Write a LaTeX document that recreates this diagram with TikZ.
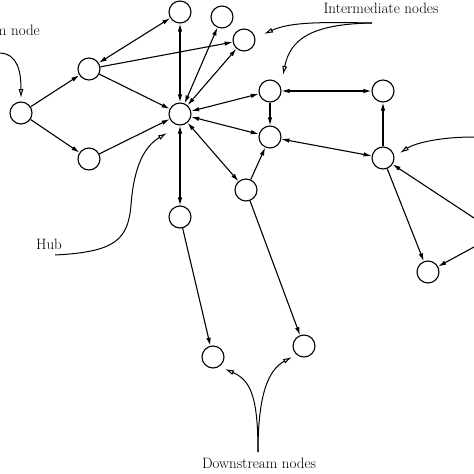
\documentclass[tikz,border=0pt]{standalone}
\usetikzlibrary{arrows.meta}
\begin{document}
\begin{tikzpicture}[x=1pt,y=-1pt,
  nd/.style={circle,draw,line width=1.1pt,minimum size=22pt,inner sep=0pt},
  ed/.style={line width=1.1pt,-{Latex[length=8pt,width=4.5pt]}},
  bi/.style={line width=1.1pt,{Latex[length=8pt,width=4.5pt]}-{Latex[length=8pt,width=4.5pt]}},
  lab/.style={line width=1pt,-{Latex[open,length=9pt,width=5pt]}},
  txt/.style={font=\fontsize{15}{18}\selectfont,inner sep=0pt}]
\clip (0,0) rectangle (474,474);
\node[nd] (S) at (21,113) {};
\node[nd] (A) at (89,69) {};
\node[nd] (B) at (89,159) {};
\node[nd] (H) at (180,114) {};
\node[nd] (T1) at (180,12) {};
\node[nd] (T2) at (222,17) {};
\node[nd] (T3) at (244,40) {};
\node[nd] (C1) at (270,91) {};
\node[nd] (C2) at (270,137) {};
\node[nd] (D1) at (383,91) {};
\node[nd] (D2) at (383,158) {};
\node[nd] (E) at (246,190) {};
\node[nd] (F) at (180,217) {};
\node[nd] (N1) at (213,357) {};
\node[nd] (N2) at (304,346) {};
\node[nd] (R) at (428,272) {};
\coordinate (X1) at (474,218);
\coordinate (X2) at (474,247);

\draw[ed] (S) -- (A);
\draw[ed] (S) -- (B);
\draw[ed] (A) -- (H);
\draw[ed] (B) -- (H);
\draw[bi] (A) -- (T1);
\draw[ed] (A) -- (T3);
\draw[bi] (H) -- (T1);
\draw[bi] (H) -- (T2);
\draw[bi] (H) -- (T3);
\draw[bi] (H) -- (C1);
\draw[bi] (H) -- (C2);
\draw[bi] (H) -- (E);
\draw[bi] (H) -- (F);
\draw[ed] (C1) -- (C2);
\draw[bi] (C1) -- (D1);
\draw[bi] (C2) -- (D2);
\draw[ed] (D2) -- (D1);
\draw[ed] (E) -- (C2);
\draw[ed] (E) -- (N2);
\draw[ed] (F) -- (N1);
\draw[ed] (D2) -- (R);
\draw[ed] (X1) -- (D2);
\draw[ed] (X2) -- (R);

\node[txt,anchor=east] (tup) at (40,32) {Upstream node};
\node[txt] (tint) at (381,8) {Intermediate nodes};
\node[txt] (thub) at (49,244) {Hub};
\node[txt] (tdown) at (259,463) {Downstream nodes};

\coordinate (u0) at (0,53);
\coordinate (i0) at (372,23);
\coordinate (h0) at (55,255);
\coordinate (d0) at (258,452);
\coordinate (r0) at (474,137);

\draw[lab] (u0) .. controls (18,54) and (21,72) .. (21,98);
\draw[lab] (i0) .. controls (320,22) and (290,22) .. (264,34);
\draw[lab] (i0) .. controls (310,24) and (290,40) .. (283,75);
\draw[lab] (h0) .. controls (115,252) and (128,240) .. (131,205) .. controls (134,165) and (145,146) .. (167,133);
\draw[lab] (d0) .. controls (258,395) and (250,380) .. (225,369);
\draw[lab] (d0) .. controls (258,395) and (268,370) .. (292,357);
\draw[lab] (r0) .. controls (440,137) and (415,143) .. (400,153);
\end{tikzpicture}
\end{document}
